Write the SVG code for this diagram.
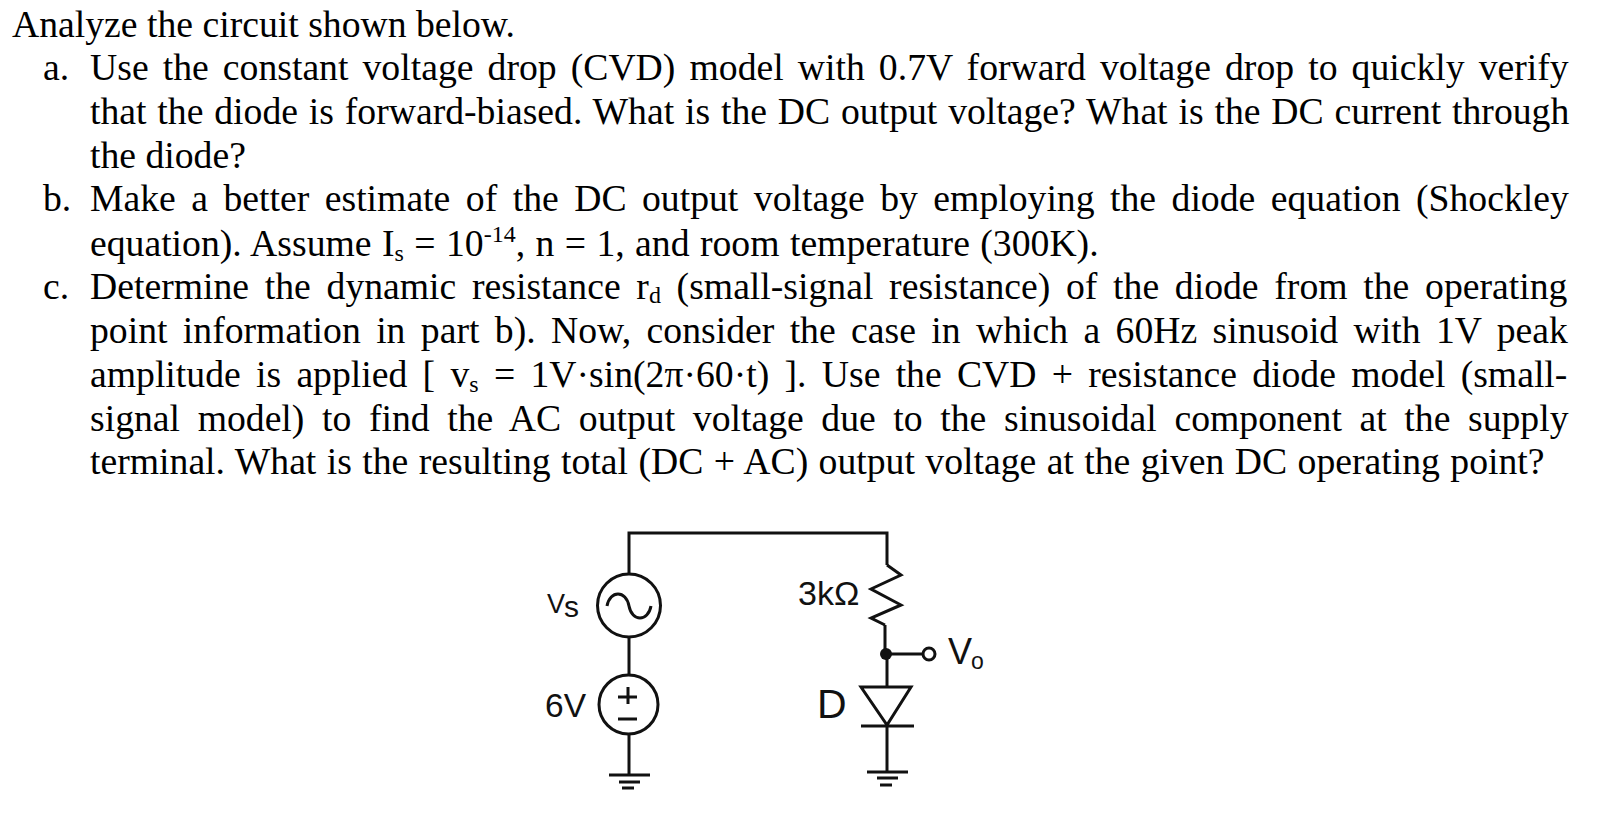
<svg xmlns="http://www.w3.org/2000/svg" width="1614" height="833" viewBox="0 0 1614 833">
<style>
.t{font-family:"Liberation Serif","Times New Roman",serif;font-size:37.7px;fill:#000}
.s{font-size:24px}
.c{font-family:"Liberation Sans",Arial,sans-serif;fill:#111}
.w{fill:none;stroke:#111;stroke-width:3}
</style>
<rect width="1614" height="833" fill="#fff"/>
<g id="question">
<text class="t" x="12" y="37">Analyze the circuit shown below.</text>
<text class="t" x="43" y="80">a.</text>
<text class="t" x="90" y="80" word-spacing="4.67">Use the constant voltage drop (CVD) model with 0.7V forward voltage drop to quickly verify</text>
<text class="t" x="90" y="124" word-spacing="1.42">that the diode is forward-biased. What is the DC output voltage? What is the DC current through</text>
<text class="t" x="90" y="168">the diode?</text>
<text class="t" x="43" y="211">b.</text>
<text class="t" x="90" y="211" word-spacing="6.05">Make a better estimate of the DC output voltage by employing the diode equation (Shockley</text>
<text class="t" x="90" y="255.5" word-spacing="1">equation). Assume I<tspan class="s" dy="5">s</tspan><tspan dy="-5"> = 10</tspan><tspan class="s" dy="-14">-14</tspan><tspan dy="14">, n = 1, and room temperature (300K).</tspan></text>
<text class="t" x="43" y="299">c.</text>
<text class="t" x="90" y="299" word-spacing="6.3">Determine the dynamic resistance r<tspan class="s" dy="4">d</tspan><tspan dy="-4"> (small-signal resistance) of the diode from the operating</tspan></text>
<text class="t" x="90" y="343" word-spacing="5.95">point information in part b). Now, consider the case in which a 60Hz sinusoid with 1V peak</text>
<text class="t" x="90" y="387" word-spacing="5.85">amplitude is applied [ v<tspan class="s" dy="5">s</tspan><tspan dy="-5"> = 1V·sin(2π·60·t) ]. Use the CVD + resistance diode model (small-</tspan></text>
<text class="t" x="90" y="431" word-spacing="8.2">signal model) to find the AC output voltage due to the sinusoidal component at the supply</text>
<text class="t" x="90" y="474" word-spacing="0.98">terminal. What is the resulting total (DC + AC) output voltage at the given DC operating point?</text>
</g>
<g id="connectors" class="w">
<path d="M629 574V533H887V565"/>
<path d="M629 637V675"/>
<path d="M629 734V775"/>
<path d="M885 625V654H923"/>
<path d="M887 654V687"/>
<path d="M887 726V772"/>
</g>
<g id="vs-source">
<circle class="w" cx="629" cy="605.5" r="31.5"/>
<path class="w" d="M607 606C610 590 626 590 629 606S648 622 651 606"/>
<text class="c" x="547" y="613" font-size="27">V<tspan x="564" y="617" font-size="30">s</tspan></text>
</g>
<g id="dc-source">
<circle class="w" cx="628.5" cy="704.5" r="29.5"/>
<path class="w" d="M618 697H637M628 687V704M618 719H637"/>
<text class="c" x="545" y="717" font-size="33.5">6V</text>
</g>
<g id="ground-left">
<path class="w" d="M609 775H650M619 782H640M622 788H634"/>
</g>
<g id="resistor">
<path class="w" d="M887 565L901 575L871 589L901 605L871 618L885 625"/>
<text class="c" x="798" y="605" font-size="34">3kΩ</text>
</g>
<g id="output-node">
<circle cx="886" cy="654" r="6" fill="#111"/>
<circle class="w" cx="929" cy="654" r="6"/>
<text class="c" x="948" y="664" font-size="36">V</text>
<text class="c" x="971" y="669" font-size="23">o</text>
</g>
<g id="diode">
<path class="w" d="M861 687H911L887 725ZM861 726H914"/>
<text class="c" x="817" y="718" font-size="41">D</text>
</g>
<g id="ground-right">
<path class="w" d="M867 772H908M877 778H898M880 785H892"/>
</g>
</svg>
